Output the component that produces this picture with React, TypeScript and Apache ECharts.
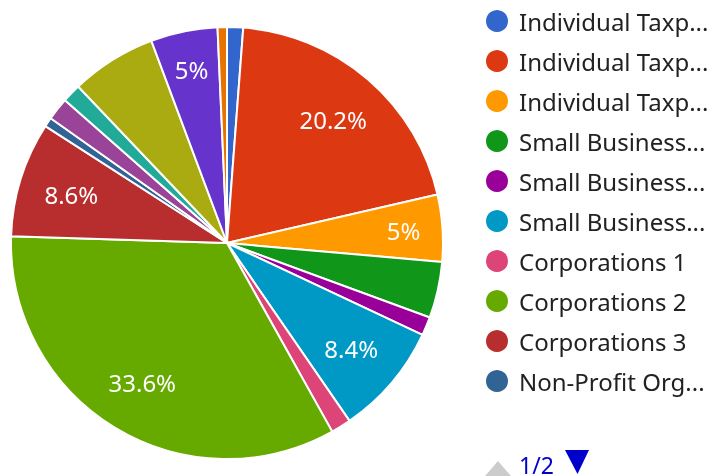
import React, { useEffect, useRef } from "react";
import * as echarts from "echarts";

const names = [
  "Individual Taxpayers 1",
  "Individual Taxpayers 2",
  "Individual Taxpayers 3",
  "Small Businesses 1",
  "Small Businesses 2",
  "Small Businesses 3",
  "Corporations 1",
  "Corporations 2",
  "Corporations 3",
  "Non-Profit Organizations 1",
  "Non-Profit Organizations 2",
  "Non-Profit Organizations 3",
  "Government Entities 1",
  "Government Entities 2",
  "Government Entities 3",
];
const values = [1.2, 20.2, 5, 4.2, 1.4, 8.4, 1.5, 33.6, 8.6, 0.7, 1.7, 1.4, 6.4, 5, 0.7];
const colors = [
  "#3366cc", "#dc3912", "#ff9900", "#109618", "#990099",
  "#0099c6", "#dd4477", "#66aa00", "#b82e2e", "#316395",
  "#994499", "#22aa99", "#aaaa11", "#6633cc", "#e67300",
];
// slices whose percentage is printed on the pie
const labelledWide = [1, 5, 7, 8];
const labelledNarrow = [2, 13];
const legendPageOne = names.slice(0, 10);
const pageText = "1/2";

export default function App() {
  const ref = useRef<HTMLDivElement>(null);
  useEffect(() => {
    if (!ref.current) return;
    const chart = echarts.init(ref.current, undefined, { renderer: "svg" });
    const data = names.map((n, i) => ({ name: n, value: values[i], itemStyle: { color: colors[i] } }));
    const labelSeries = (key: string, inner: number, shown: number[]) => ({
      type: "pie",
      center: [227, 243],
      radius: [inner, 216],
      startAngle: 90,
      clockwise: true,
      silent: true,
      legendHoverLink: false,
      data: names.map((n, i) => ({ name: n + key, value: values[i] })),
      itemStyle: { color: "rgba(0,0,0,0)", borderWidth: 0 },
      label: {
        show: true,
        position: "inside",
        color: "#ffffff",
        fontFamily: "Noto Sans",
        fontSize: 24,
        formatter: (p: any) => (shown.includes(p.dataIndex) ? `${p.value}%` : ""),
      },
      labelLine: { show: false },
      emphasis: { disabled: true },
    });
    chart.setOption({
      animation: false,
      color: colors,
      legend: {
        type: "plain",
        orient: "vertical",
        left: 484,
        top: 8,
        padding: 0,
        data: legendPageOne,
        icon: "circle",
        itemWidth: 24,
        itemHeight: 24,
        itemGap: 14,
        selectedMode: false,
        textStyle: {
          color: "#222222",
          fontFamily: "Noto Sans",
          fontSize: 24,
          padding: [0, 0, 0, 5],
          width: 195,
          overflow: "truncate",
          ellipsis: "...",
        },
      },
      series: [
        {
          type: "pie",
          center: [227, 243],
          radius: [0, 216],
          startAngle: 90,
          clockwise: true,
          data,
          label: { show: false },
          labelLine: { show: false },
          itemStyle: { borderColor: "#ffffff", borderWidth: 2 },
          emphasis: { disabled: true },
        },
        labelSeries(" ", 104, labelledWide),
        labelSeries("  ", 132, labelledNarrow),
      ],
      graphic: [
        {
          type: "polygon",
          shape: { points: [[483.3, 478], [512.7, 478], [498, 461]] },
          style: { fill: "#cccccc" },
        },
        {
          type: "text",
          x: 519,
          y: 465,
          style: {
            text: pageText,
            fill: "#0000cc",
            fontFamily: "Noto Sans",
            fontSize: 23,
            lineHeight: 20,
            verticalAlign: "middle",
          },
        },
        {
          type: "polygon",
          shape: { points: [[565, 450], [589, 450], [577.5, 474]] },
          style: { fill: "#0000cc" },
        },
      ],
    });
    return () => chart.dispose();
  }, []);
  return (
    <div
      ref={ref}
      style={{ position: "fixed", left: 0, top: 0, width: 712, height: 476 }}
    />
  );
}
